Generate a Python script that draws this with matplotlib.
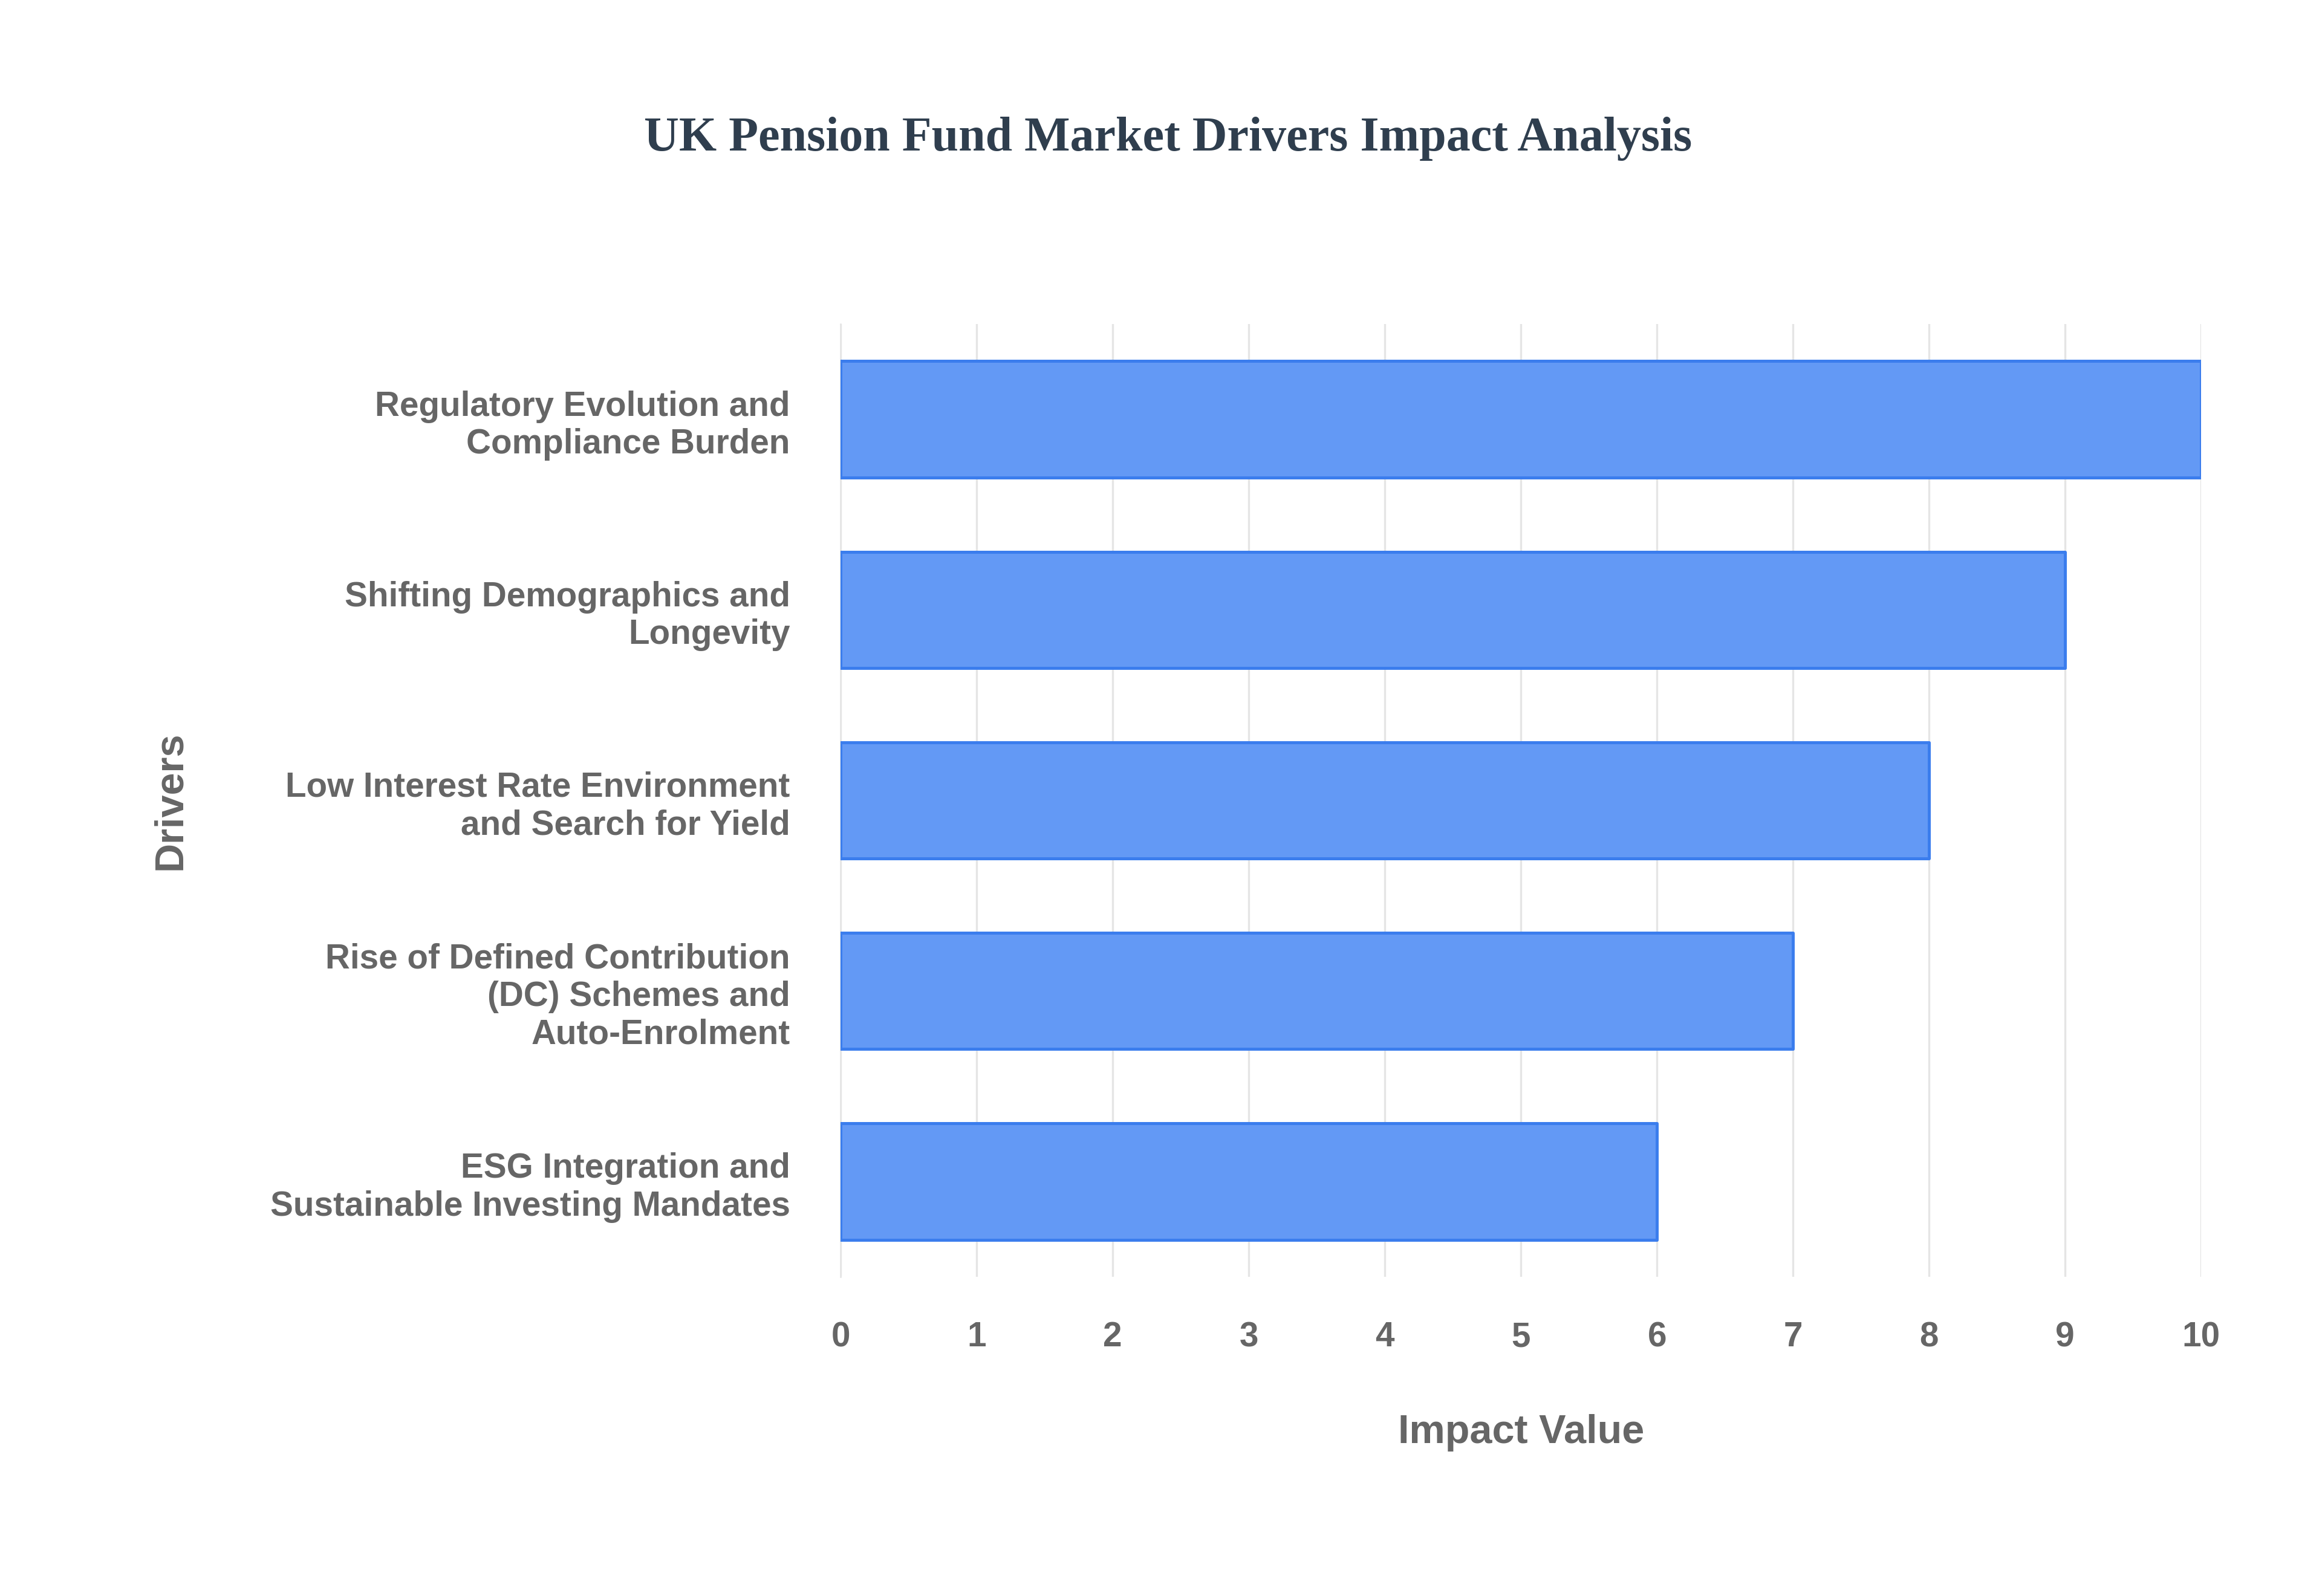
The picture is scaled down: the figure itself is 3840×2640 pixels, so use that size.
import matplotlib.pyplot as plt

drivers = [
    "ESG Integration and\nSustainable Investing Mandates",
    "Rise of Defined Contribution\n(DC) Schemes and\nAuto-Enrolment",
    "Low Interest Rate Environment\nand Search for Yield",
    "Shifting Demographics and\nLongevity",
    "Regulatory Evolution and\nCompliance Burden",
]
impact = [6, 7, 8, 9, 10]
ticks = list(range(0, 11))

plt.rcParams['font.family'] = ['Liberation Sans', 'DejaVu Sans']
fig = plt.figure(figsize=(16, 11), dpi=240)
ax = fig.add_axes([0.362, 0.2, 0.586, 0.597])

ax.barh(range(len(drivers)), impact, height=0.61, color='#6399F5',
        edgecolor='#3B7DED', linewidth=1.5, joinstyle='round', zorder=3)

ax.set_xlim(0, 10)
ax.set_ylim(-0.5, len(drivers) - 0.5)
ax.set_xticks(ticks)
ax.set_yticks(range(len(drivers)))
ax.set_yticklabels(drivers, fontsize=17, fontweight='bold', color='#666666')
ax.tick_params(axis='y', length=0, pad=25)
ax.tick_params(axis='x', length=0, pad=22, labelsize=17, labelcolor='#666666')
for t in ax.get_xticklabels():
    t.set_fontweight('bold')
ax.grid(axis='x', color='#E5E5E5', linewidth=1, zorder=0)
for s in ['top', 'right', 'bottom']:
    ax.spines[s].set_visible(False)
ax.spines['left'].set_color('#E5E5E5')

ax.set_xlabel('Impact Value', fontsize=20, fontweight='bold', color='#666666', labelpad=30)
ax.set_ylabel('Drivers', fontsize=20, fontweight='bold', color='#666666', labelpad=40)

fig.text(0.503, 0.913, 'UK Pension Fund Market Drivers Impact Analysis', ha='center',
         va='center', fontsize=24, fontweight='bold', color='#2F3E4E',
         family='Liberation Serif')

fig.savefig('out.png')
